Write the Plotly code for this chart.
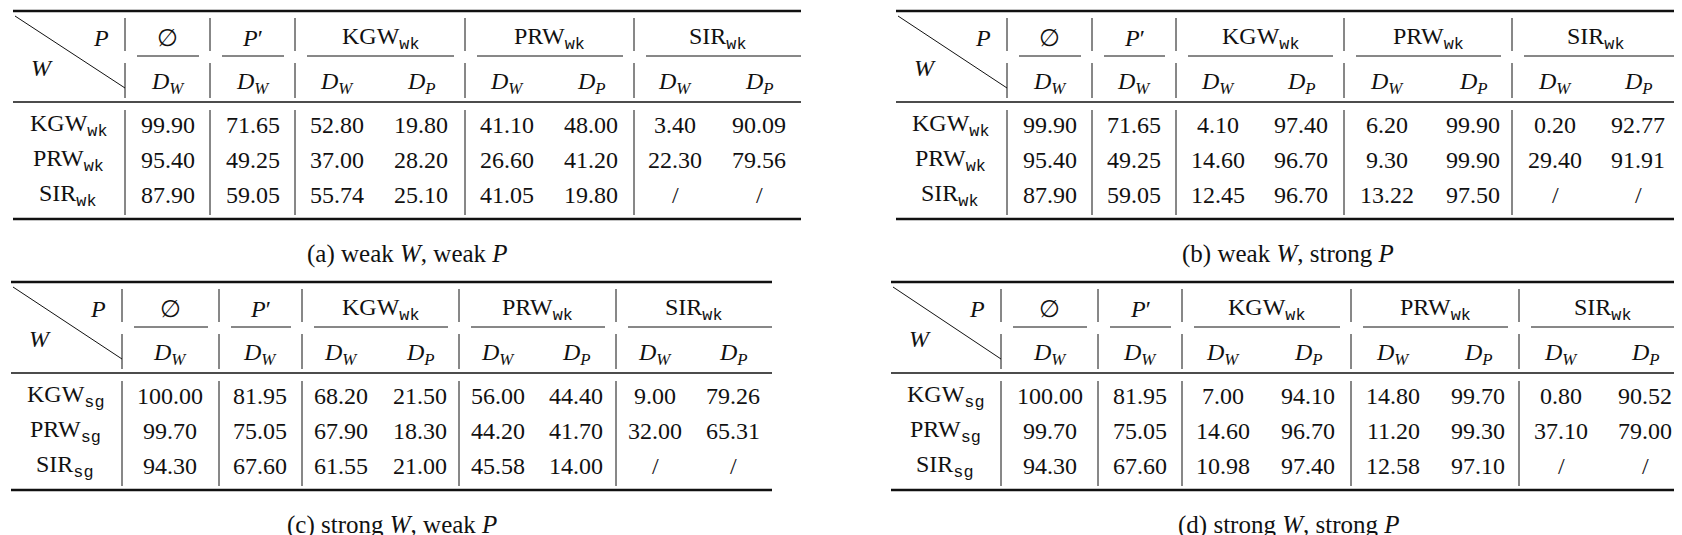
import plotly.graph_objects as go

# ---------------- data ----------------
methods = ["KGW", "PRW", "SIR"]
group_headers = ["∅", "<i>P</i>′", "KGW", "PRW", "SIR"]
captions = ["(a) weak <i>W</i>, weak <i>P</i>", "(b) weak <i>W</i>, strong <i>P</i>",
            "(c) strong <i>W</i>, weak <i>P</i>", "(d) strong <i>W</i>, strong <i>P</i>"]
row_suffix = ["wk", "wk", "sg", "sg"]
sub_cols = ["W", "W", "W", "P", "W", "P", "W", "P"]

vals_a = [[99.90, 71.65, 52.80, 19.80, 41.10, 48.00, 3.40, 90.09],
          [95.40, 49.25, 37.00, 28.20, 26.60, 41.20, 22.30, 79.56],
          [87.90, 59.05, 55.74, 25.10, 41.05, 19.80, None, None]]
vals_b = [[99.90, 71.65, 4.10, 97.40, 6.20, 99.90, 0.20, 92.77],
          [95.40, 49.25, 14.60, 96.70, 9.30, 99.90, 29.40, 91.91],
          [87.90, 59.05, 12.45, 96.70, 13.22, 97.50, None, None]]
vals_c = [[100.00, 81.95, 68.20, 21.50, 56.00, 44.40, 9.00, 79.26],
          [99.70, 75.05, 67.90, 18.30, 44.20, 41.70, 32.00, 65.31],
          [94.30, 67.60, 61.55, 21.00, 45.58, 14.00, None, None]]
vals_d = [[100.00, 81.95, 7.00, 94.10, 14.80, 99.70, 0.80, 90.52],
          [99.70, 75.05, 14.60, 96.70, 11.20, 99.30, 37.10, 79.00],
          [94.30, 67.60, 10.98, 97.40, 12.58, 97.10, None, None]]
all_vals = [vals_a, vals_b, vals_c, vals_d]

# ---------------- geometry (style) ----------------
geom = [
    dict(left=5, seps=[117, 202, 287, 457, 626], right=793, dy=0,
         label=60, cols=[160, 245, 329, 413, 499, 583, 667, 751]),
    dict(left=888, seps=[999, 1084, 1168, 1336, 1504], right=1671, dy=0,
         label=942, cols=[1042, 1126, 1210, 1293, 1379, 1465, 1547, 1630]),
    dict(left=3, seps=[114, 211, 294, 451, 608], right=764, dy=271,
         label=57, cols=[162, 252, 333, 412, 490, 568, 647, 725]),
    dict(left=883, seps=[993, 1090, 1174, 1343, 1511], right=1679, dy=271,
         label=937, cols=[1042, 1132, 1215, 1300, 1385, 1470, 1553, 1637]),
]
Y = dict(top=3, h1=30, cmid=48, h2=75, mid=94, rows=[117, 152, 187], bot=211, cap=246)

FONT = "Liberation Serif"
MONO = "Liberation Mono"
DS = 24

def sub_mono(s):
    return f"<sub><span style='font-family:{MONO}'>{s}</span></sub>"

shapes, annots = [], []

def line(x0, y0, x1, y1, w):
    shapes.append(dict(type="line", xref="x", yref="y", x0=x0, y0=y0, x1=x1, y1=y1,
                       line=dict(color="#111", width=w)))

def text(x, y, s, size=DS, xanchor="center"):
    annots.append(dict(x=x, y=y, xref="x", yref="y", text=s, showarrow=False,
                       xanchor=xanchor, yanchor="middle",
                       font=dict(family=FONT, size=size, color="#111")))

for t, g in enumerate(geom):
    dy = g["dy"]
    L, R, S = g["left"], g["right"], g["seps"]
    line(L, Y["top"] + dy, R, Y["top"] + dy, 2.6)
    line(L, Y["mid"] + dy, R, Y["mid"] + dy, 1.3)
    line(L, Y["bot"] + dy, R, Y["bot"] + dy, 2.6)
    bounds = S + [R]
    for i in range(5):
        x0 = bounds[i] + 12
        x1 = bounds[i + 1] - (0 if i == 4 else 11)
        line(x0, Y["cmid"] + dy, x1, Y["cmid"] + dy, 1.0)
    for s in S:
        for (a, b) in [(10, 43), (55, 90), (102, 207)]:
            line(s, a + dy, s, b + dy, 1.0)
    line(L + 2, 8 + dy, S[0], 80 + dy, 1.0)
    text(S[0] - 14, Y["h1"] + dy, "<i>P</i>", xanchor="right")
    text(L + 16, 60 + dy, "<i>W</i>", xanchor="left")
    hdr_x = [(S[0] + S[1]) / 2, (S[1] + S[2]) / 2, (S[2] + S[3]) / 2,
             (S[3] + S[4]) / 2, (S[4] + R) / 2]
    for i, h in enumerate(group_headers):
        s = h if i < 2 else h + sub_mono("wk")
        text(hdr_x[i], Y["h1"] + dy, s)
    for c, sc in zip(g["cols"], sub_cols):
        text(c, Y["h2"] + dy, f"<i>D</i><sub><i>{sc}</i></sub>")
    for r, m in enumerate(methods):
        ry = Y["rows"][r] + dy
        text(g["label"], ry, m + sub_mono(row_suffix[t]))
        for c, v in zip(g["cols"], all_vals[t][r]):
            text(c, ry, "/" if v is None else f"{v:.2f}")
    text((L + R) / 2, Y["cap"] + dy, captions[t], size=25)

fig = go.Figure()
fig.update_layout(
    width=1682, height=535, margin=dict(l=0, r=0, t=0, b=0),
    paper_bgcolor="white", plot_bgcolor="white",
    font=dict(family=FONT),
    xaxis=dict(range=[0, 1682], visible=False, fixedrange=True),
    yaxis=dict(range=[535, 0], visible=False, fixedrange=True),
    shapes=shapes, annotations=annots, showlegend=False,
)
fig.write_html("out.html")
